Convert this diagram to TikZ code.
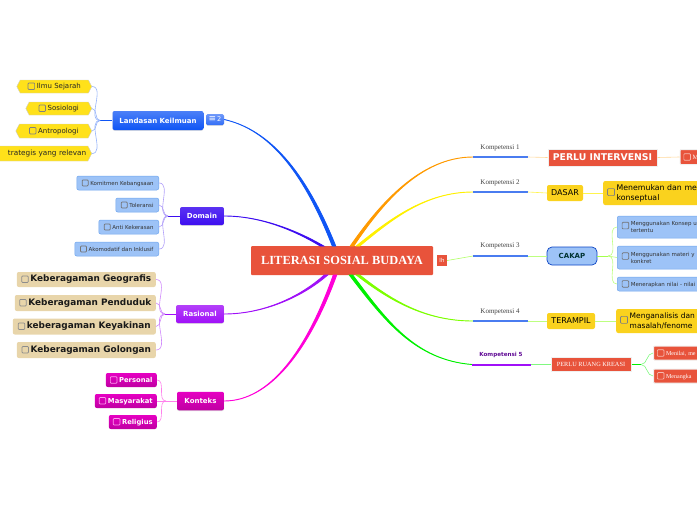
\documentclass[tikz,border=0pt]{standalone}
\usepackage{fontspec}
\setmainfont{DejaVu Sans}
\newfontfamily\serifface{Liberation Serif}
\usetikzlibrary{shapes.symbols,shadows}
\definecolor{rootred}{HTML}{E8533B}
\definecolor{hexyellow}{HTML}{FFE11A}
\definecolor{goldfill}{HTML}{FAD21E}
\definecolor{paleblue}{HTML}{9DC3F7}
\definecolor{paleedge}{HTML}{6FA5EE}
\definecolor{tanfill}{HTML}{E8D5AA}
\definecolor{ruleblue}{HTML}{4A7CF0}
\definecolor{curveblue}{HTML}{0F55F5}
\definecolor{curveindigo}{HTML}{3D0EF0}
\definecolor{curvepurple}{HTML}{A010F8}
\definecolor{curvepink}{HTML}{FF00D8}
\definecolor{curveorange}{HTML}{FF9A00}
\definecolor{curveyellow}{HTML}{FFF000}
\definecolor{curvelime}{HTML}{7CFF00}
\definecolor{curvegreen}{HTML}{00F000}
\newcommand{\chk}[2][6.6]{\tikz[baseline=.6pt,x=1pt,y=1pt]\draw[#2,line width=.7pt,rounded corners=.9pt] (0,0) rectangle (#1,#1);\hspace{1.8pt}}
\newcommand{\taper}[5]{\draw[draw=#1, fill=#1, line width=.9pt] (#2) .. controls (#3) and ([xshift=1.2pt]#4) .. ([xshift=1.7pt]#5) -- ([xshift=-1.7pt]#5) .. controls ([xshift=-1.2pt]#4) and (#3) .. (#2) -- cycle;}
\tikzset{
    branch/.style={draw=none, rounded corners=2pt, text=white, font=\bfseries\fontsize{7}{8}\selectfont, inner sep=0pt, drop shadow={shadow xshift=0pt, shadow yshift=-.8pt, opacity=.25}},
    wire/.style={line width=.6pt},
    rule/.style={draw=ruleblue, line width=1.1pt},
    komp/.style={font=\serifface\fontsize{7}{8}\selectfont, text=black!75, inner sep=1pt},
    hexa/.style={signal, signal to=east and west, signal pointer angle=125, draw=black!20, fill=hexyellow, inner sep=0pt, anchor=east, font=\fontsize{7}{8}\selectfont, text=black!85},
    bluebox/.style={rounded corners=2pt, draw=paleedge, line width=.5pt, fill=paleblue, inner sep=0pt, anchor=east, font=\fontsize{5.5}{6.5}\selectfont, text=black!80},
    tanbox/.style={rounded corners=2pt, fill=tanfill, inner sep=0pt, anchor=east, font=\bfseries\fontsize{8.9}{10}\selectfont, text=black!90},
    pinkbox/.style={rounded corners=2pt, top color=curvepink!90!black, bottom color=curvepink!75!black, inner sep=0pt, anchor=east, text=white, font=\bfseries\fontsize{6.8}{8}\selectfont},
    redbox/.style={fill=rootred, text=white, inner sep=0pt},
    gold/.style={rounded corners=2pt, fill=goldfill, text=black, inner sep=0pt},
    rightbox/.style={rounded corners=2pt, draw=paleedge, line width=.5pt, fill=paleblue, inner xsep=4.5pt, inner ysep=0pt, anchor=west, align=left, text width=90pt, font=\fontsize{5.5}{7}\selectfont, text=black!80},
    cutbox/.style={redbox, draw=black!6, line width=1pt, rounded corners=1pt, anchor=west, inner xsep=3.5pt, minimum width=60pt, text width=60pt, align=left, font=\serifface\fontsize{6}{7}\selectfont}
}
\begin{document}
\begin{tikzpicture}[x=1pt, y=-1pt]
    \useasboundingbox (0,0) rectangle (697,520);

    % Root
    \node[rounded corners=1pt, fill=rootred, text=white, font=\serifface\bfseries\fontsize{12.4}{14}\selectfont, minimum width=182pt, minimum height=29pt, inner sep=0pt] (root) at (342,260.5) {LITERASI SOSIAL BUDAYA};
    \node[redbox, minimum width=10pt, minimum height=11pt, font=\fontsize{5.5}{6}\selectfont] (note) at (442,260.5) {lh};

    % Left branches
    \node[branch, top color=curveblue!75!white, bottom color=curveblue, minimum width=91pt, minimum height=19pt] (landasan) at (158,120.5) {Landasan Keilmuan};
    \node[branch, rounded corners=1.5pt, top color=curveblue!60!white, bottom color=curveblue!85!white, minimum width=18pt, minimum height=11pt, font=\fontsize{6.5}{7}\selectfont] (badge) at (215,119.5) {{\fontsize{9}{9}\selectfont ≡}\,2};
    \node[branch, top color=curveindigo!85!white, bottom color=curveindigo, minimum width=44pt, minimum height=18pt] (domain) at (202,216) {Domain};
    \node[branch, top color=curvepurple!80!white, bottom color=curvepurple, minimum width=48pt, minimum height=18pt] (rasional) at (200,314) {Rasional};
    \node[branch, top color=curvepink!90!black, bottom color=curvepink!75!black, minimum width=47pt, minimum height=18.5pt] (konteks) at (200.5,401) {Konteks};

    % Landasan Keilmuan
    \node[hexa, minimum width=75pt, minimum height=13pt] (sejarah) at (92,86.5) {\chk{black!50}Ilmu Sejarah};
    \node[hexa, minimum width=66pt, minimum height=13pt] (sosiologi) at (92,108.5) {\chk{black!50}Sosiologi};
    \node[hexa, minimum width=76pt, minimum height=14pt] (antropologi) at (92,131) {\chk{black!50}Antropologi};
    \node[hexa, minimum width=100pt, minimum height=15pt, align=right, text width=89pt, font=\fontsize{7.3}{8}\selectfont] (strategis) at (92,153.5) {trategis yang relevan\hspace{6pt}};

    % Domain
    \node[bluebox, minimum width=82pt, minimum height=14pt] (kebangsaan) at (159,183) {\chk[6]{black!55}Komitmen Kebangsaan};
    \node[bluebox, minimum width=43pt, minimum height=14pt] (toleransi) at (159,205) {\chk[6]{black!55}Toleransi};
    \node[bluebox, minimum width=60pt, minimum height=14pt] (kekerasan) at (159,227) {\chk[6]{black!55}Anti Kekerasan};
    \node[bluebox, minimum width=84pt, minimum height=14pt] (inklusif) at (159,249) {\chk[6]{black!55}Akomodatif dan Inklusif};

    % Rasional
    \node[tanbox, minimum width=139pt, minimum height=15pt] (geografis) at (156,279.5) {\chk{black!45}Keberagaman Geografis};
    \node[tanbox, minimum width=141pt, minimum height=16pt] (penduduk) at (156,303) {\chk{black!45}Keberagaman Penduduk};
    \node[tanbox, minimum width=143pt, minimum height=16pt] (keyakinan) at (156,326.5) {\chk{black!45}keberagaman Keyakinan};
    \node[tanbox, minimum width=139pt, minimum height=16pt] (golongan) at (156,350) {\chk{black!45}Keberagaman Golongan};

    % Konteks
    \node[pinkbox, minimum width=51pt, minimum height=14pt] (personal) at (157,380) {\chk{white!60!curvepink}Personal};
    \node[pinkbox, minimum width=62pt, minimum height=14pt] (masyarakat) at (157,401) {\chk{white!60!curvepink}Masyarakat};
    \node[pinkbox, minimum width=48pt, minimum height=14pt] (religius) at (157,422) {\chk{white!60!curvepink}Religius};

    % Right branches
    \node[redbox, draw=black!6, line width=1pt, minimum width=109pt, minimum height=17pt, font=\bfseries\fontsize{9.3}{10}\selectfont] (intervensi) at (602.5,157.5) {PERLU INTERVENSI};
    \node[gold, minimum width=36pt, minimum height=16pt, font=\fontsize{8}{9}\selectfont] (dasar) at (565,193) {DASAR};
    \node[rounded corners=5pt, draw=curveblue!80!black, line width=.7pt, fill=paleblue, minimum width=50pt, minimum height=18pt, inner sep=0pt, text=teal!40!black, font=\bfseries\fontsize{7}{8}\selectfont] (cakap) at (572,256) {CAKAP};
    \node[gold, minimum width=48pt, minimum height=16pt, font=\fontsize{8}{9}\selectfont] (terampil) at (571,321) {TERAMPIL};
    \node[redbox, draw=black!6, line width=1pt, minimum width=80pt, minimum height=14pt, font=\serifface\fontsize{6.3}{7}\selectfont] (kreasi) at (591,364.5) {PERLU RUANG KREASI};

    % Leaves on the right
    \node[cutbox, minimum height=15pt, font=\serifface\fontsize{6.5}{8}\selectfont] (m) at (679.5,157) {\chk{white!60!rootred}M};
    \node[gold, anchor=west, minimum height=24pt, inner xsep=4pt, text width=110pt, align=left, font=\fontsize{7.8}{10}\selectfont] (menemukan) at (603,193) {\chk[7]{black!50}\parbox[c]{95pt}{Menemukan dan me\\konseptual}};
    \node[rightbox, minimum height=22pt] (konsep) at (617,227) {\chk{black!55}\parbox[c]{78pt}{Menggunakan Konsep u\\tertentu}};
    \node[rightbox, minimum height=23pt] (materi) at (617,257.5) {\chk{black!55}\parbox[c]{78pt}{Menggunakan materi y\\konkret}};
    \node[rightbox, minimum height=14pt] (nilai) at (617,284) {\chk{black!55}Menerapkan nilai - nilai};
    \node[gold, anchor=west, minimum height=24pt, inner xsep=4pt, text width=100pt, align=left, font=\fontsize{7.5}{10}\selectfont] (analisis) at (616,321) {\chk[7]{black!50}\parbox[c]{85pt}{Menganalisis dan\\masalah/fenome}};
    \node[cutbox, minimum height=14pt] (menilai) at (653,353) {\chk{white!60!rootred}Menilai, me};
    \node[cutbox, minimum height=14pt] (menangka) at (653,376) {\chk{white!60!rootred}Menangka};

    % Labels and their rules
    \coordinate (k1a) at (473,157);
    \coordinate (k1b) at (528,157);
    \coordinate (k2a) at (473,192);
    \coordinate (k2b) at (528,192);
    \coordinate (k3a) at (473,256);
    \coordinate (k3b) at (528,256);
    \coordinate (k4a) at (473,321);
    \coordinate (k4b) at (528,321);
    \coordinate (k5a) at (472,364.5);
    \coordinate (k5b) at (531,364.5);
    \node[komp] (label1) at (500,148) {Kompetensi 1};
    \node[komp] (label2) at (500,183) {Kompetensi 2};
    \node[komp] (label3) at (500,246) {Kompetensi 3};
    \node[komp] (label4) at (500,312) {Kompetensi 4};
    \node[komp, text=curvepurple!60!black, font=\bfseries\fontsize{5.6}{7}\selectfont] (label5) at (501,355) {Kompetensi 5};

    % Main curves
    \coordinate (r1) at (334,246);
    \coordinate (r2) at (322,246);
    \coordinate (r3) at (326,275);
    \coordinate (r4) at (335,275);
    \coordinate (r5) at (352,246);
    \coordinate (r6) at (358,246);
    \coordinate (r7) at (358,275);
    \coordinate (r8) at (351,275);
    \taper{curveblue}{badge.east}{262,128}{300,160}{r1}
    \taper{curveindigo}{domain.east}{260,216}{295,230}{r2}
    \taper{curvepurple}{rasional.east}{262,314}{300,298}{r3}
    \taper{curvepink}{konteks.east}{270,401}{308,350}{r4}
    \taper{curveorange}{k1a}{420,157}{380,205}{r5}
    \taper{curveyellow}{k2a}{425,192}{390,220}{r6}
    \taper{curvelime}{k4a}{425,321}{390,300}{r7}
    \taper{curvegreen}{k5a}{415,360}{385,320}{r8}
    \draw[wire, draw=curvelime!60] (note.east) -- (k3a);

    % Rules under the labels
    \draw[rule] (k1a) -- (k1b);
    \draw[rule] (k2a) -- (k2b);
    \draw[rule] (k3a) -- (k3b);
    \draw[rule] (k4a) -- (k4b);
    \draw[rule, line width=2pt, draw=curvepurple] (k5a) -- (k5b);
    \draw[wire, draw=curveorange!40] (k1b) -- (intervensi.west);
    \draw[wire, draw=curveorange!40] (intervensi.east) -- (m.west);
    \draw[wire, draw=curveyellow!70] (k2b) -- (dasar.west);
    \draw[wire, draw=curveyellow!70] (dasar.east) -- (menemukan.west);
    \draw[wire, draw=curvelime!50] (k3b) -- (cakap.west);
    \draw[wire, draw=curvelime!50] (k4b) -- (terampil.west);
    \draw[wire, draw=curvelime!50] (terampil.east) -- (analisis.west);
    \draw[wire, draw=curvegreen!50] (k5b) -- (kreasi.west);

    % Junctions
    \coordinate (j1) at (100,120.5);
    \coordinate (j2) at (168,216);
    \coordinate (j3) at (165,314);
    \coordinate (j4) at (166,401);
    \coordinate (j5) at (608,256);
    \coordinate (j6) at (641,364.5);
    \draw[wire, draw=curveblue] (landasan.west) -- (j1);
    \draw[wire, draw=curveindigo] (domain.west) -- (j2);
    \draw[wire, draw=curvepurple] (rasional.west) -- (j3);
    \draw[wire, draw=curvepink!50] (konteks.west) -- (j4);
    \draw[wire, draw=curvelime!70] (cakap.east) -- (j5);
    \draw[wire, draw=curvegreen] (kreasi.east) -- (j6);
    \foreach \leaf in {sejarah,sosiologi,antropologi,strategis}
        \draw[wire, draw=curveblue!45] (j1) to[out=180,in=0] (\leaf.east);
    \foreach \leaf in {kebangsaan,toleransi,kekerasan,inklusif}
        \draw[wire, draw=curveindigo!40] (j2) to[out=180,in=0] (\leaf.east);
    \foreach \leaf in {geografis,penduduk,keyakinan,golongan}
        \draw[wire, draw=curvepurple!50] (j3) to[out=180,in=0] (\leaf.east);
    \foreach \leaf in {personal,masyarakat,religius}
        \draw[wire, draw=curvepink!50] (j4) to[out=180,in=0] (\leaf.east);
    \foreach \leaf in {konsep,materi,nilai}
        \draw[wire, draw=curvelime!50] (j5) to[out=0,in=180] (\leaf.west);
    \foreach \leaf in {menilai,menangka}
        \draw[wire, draw=curvegreen!50] (j6) to[out=0,in=180] (\leaf.west);
\end{tikzpicture}
\end{document}
